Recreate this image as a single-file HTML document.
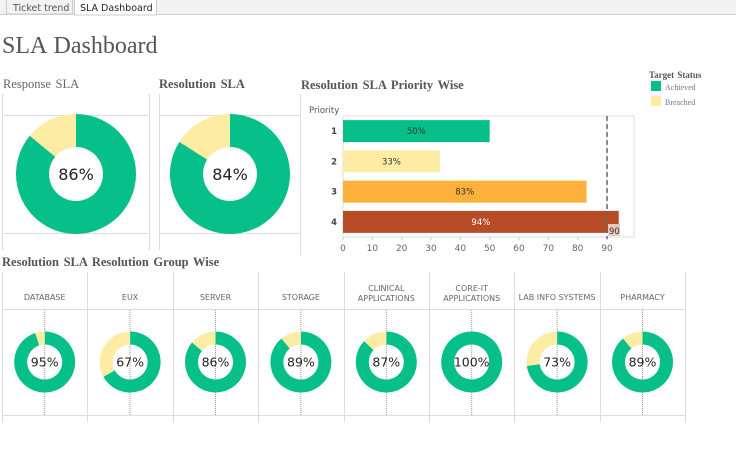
<!DOCTYPE html>
<html><head><meta charset="utf-8"><style>
body{margin:0;width:736px;height:454px;background:#fff;overflow:hidden;font-family:"DejaVu Sans","Liberation Sans",sans-serif;}
svg{position:absolute;left:0;top:0}
</style></head><body>
<svg id="s" width="736" height="454">
 <rect x="0" y="0" width="736" height="15" fill="#f2f2f2"/>
 <line x1="0" y1="14.5" x2="736" y2="14.5" stroke="#cfcfcf"/>
 <g><rect x="6.5" y="-1" width="66" height="15" fill="#f2f2f2" stroke="#ccc"/><text x="13" y="11" font-size="9.5" fill="#555">Ticket trend</text></g>
 <g><rect x="74.5" y="-1" width="82" height="16" fill="#fff" stroke="#ccc"/><text x="80" y="11" font-size="9.5" fill="#222">SLA Dashboard</text></g>
 <text x="2" y="53" font-family="Liberation Serif,serif" font-size="24" word-spacing="1.5" fill="#555">SLA Dashboard</text>
 <text x="3" y="88" font-family="Liberation Serif,serif" font-size="12.5" word-spacing="1.5" fill="#666">Response SLA</text>
 <text x="159" y="88" font-family="Liberation Serif,serif" font-size="12.5" word-spacing="1.5" font-weight="bold" fill="#555">Resolution SLA</text>
 <text x="301" y="89" font-family="Liberation Serif,serif" font-size="12.5" word-spacing="1.5" font-weight="bold" fill="#555">Resolution SLA Priority Wise</text>
 <text x="2" y="266" font-family="Liberation Serif,serif" font-size="12.5" word-spacing="1.5" font-weight="bold" fill="#555">Resolution SLA Resolution Group Wise</text>
 <g>
  <text x="649" y="78" font-family="Liberation Serif,serif" font-size="9" word-spacing="1" font-weight="bold" fill="#555">Target Status</text>
  <rect x="651" y="81" width="10" height="10" fill="#06bf89"/><text x="665" y="90" font-family="Liberation Serif,serif" font-size="8" fill="#777">Achieved</text>
  <rect x="651" y="96" width="10" height="10" fill="#fdeca3"/><text x="665" y="105" font-family="Liberation Serif,serif" font-size="8" fill="#777">Breached</text>
 </g>
 <g id="topg"></g><g id="bars"></g><g id="groups"></g>
</svg>
<script>
const GREEN="#06bf89",YEL="#fdeca3";
const topLabels=["Response SLA","Resolution SLA"];
const topValues=[86,84];
const priorities=["1","2","3","4"];
const priorityValues=[50,33,83,94];
const priorityColors=["#06bf89","#fdeca3","#fdb03a","#b64b26"];
const xTicks=[0,10,20,30,40,50,60,70,80,90];
const target=90;
const groups=[["DATABASE"],["EUX"],["SERVER"],["STORAGE"],["CLINICAL","APPLICATIONS"],["CORE-IT","APPLICATIONS"],["LAB INFO SYSTEMS"],["PHARMACY"]];
const groupValues=[95,67,86,89,87,100,73,89];
const NS="http://www.w3.org/2000/svg";
function el(p,t,a){const e=document.createElementNS(NS,t);for(const k in a)e.setAttribute(k,a[k]);p.appendChild(e);return e;}
function arc(cx,cy,R,r,a0,a1){
  if(a1-a0>=0.9999){a1=a0+0.99999;}
  const f=a=>[Math.sin(a*2*Math.PI),-Math.cos(a*2*Math.PI)];
  const[s0,c0]=f(a0),[s1,c1]=f(a1),L=(a1-a0)>0.5?1:0;
  return `M${cx+R*s0},${cy+R*c0}A${R},${R} 0 ${L} 1 ${cx+R*s1},${cy+R*c1}L${cx+r*s1},${cy+r*c1}A${r},${r} 0 ${L} 0 ${cx+r*s0},${cy+r*c0}Z`;
}
function donut(g,cx,cy,R,r,v,fs,name){
  const a=el(g,"path",{d:arc(cx,cy,R,r,0,v/100),fill:GREEN});
  
  
  if(v<100){const b=el(g,"path",{d:arc(cx,cy,R,r,v/100,1),fill:YEL});
  
  }
  const t=el(g,"text",{x:cx,y:cy+fs*0.36,"text-anchor":"middle","font-size":fs,fill:"#222"});t.textContent=v+"%";
  
  
}
const topG=document.getElementById("topg");
const panels=[[2,149],[159,300]];
topValues.forEach((v,i)=>{
  const [x0,x1]=panels[i];
  el(topG,"line",{x1:x0+.5,y1:94,x2:x0+.5,y2:250,stroke:"#ddd"});
  el(topG,"line",{x1:x1+.5,y1:94,x2:x1+.5,y2:250,stroke:"#ddd"});
  el(topG,"line",{x1:x0,y1:115.5,x2:x1,y2:115.5,stroke:"#ddd"});
  el(topG,"line",{x1:x0,y1:233.5,x2:x1,y2:233.5,stroke:"#ddd"});
  donut(topG,(x0+x1)/2+0.5,174,60,27,v,16,i?"resolution-sla-donut":"response-sla-donut");
});
const bg=document.getElementById("bars");
const X0=343,X1=634,Y0=116,Y1=237,sx=v=>X0+v*(607-X0)/90;
const bandH=(Y1-Y0)/priorities.length;
el(bg,"rect",{x:X0,y:Y0,width:X1-X0,height:Y1-Y0,fill:"none",stroke:"#ddd"});
el(bg,"line",{x1:300.5,y1:95,x2:300.5,y2:255,stroke:"#ddd"});
const pl=el(bg,"text",{x:309,y:113,"font-size":8.5,fill:"#555"});pl.textContent="Priority";
priorities.forEach((p,i)=>{
  const cy=Y0+bandH*(i+0.5),v=priorityValues[i];
  const r=el(bg,"rect",{x:X0,y:cy-11,width:sx(v)-X0,height:22,fill:priorityColors[i]});
  
  
  const t=el(bg,"text",{x:(X0+sx(v))/2,y:cy+3,"text-anchor":"middle","font-size":8.5,fill:i==3?"#fff":"#333"});t.textContent=v+"%";
  const l=el(bg,"text",{x:337,y:cy+3,"text-anchor":"end","font-size":8.5,"font-weight":"bold",fill:"#444"});l.textContent=p;
});
xTicks.forEach(v=>{const t=el(bg,"text",{x:sx(v),y:251,"text-anchor":"middle","font-size":9,fill:"#666"});t.textContent=v;
  el(bg,"line",{x1:sx(v),y1:Y1,x2:sx(v),y2:Y1+3,stroke:"#ccc"});});
const tl=el(bg,"line",{x1:sx(target),y1:Y0,x2:sx(target),y2:Y1+2,stroke:"#666","stroke-width":1.5,"stroke-dasharray":"5,3"});


el(bg,"rect",{x:sx(target)+1,y:Y1-13,width:12,height:12,fill:"#e8c8b8"});
const tt=el(bg,"text",{x:sx(target)+2,y:Y1-3,"font-size":8.5,fill:"#333"});tt.textContent=target;
const gg=document.getElementById("groups");
const gx0=2,gw=85.4;
el(gg,"line",{x1:gx0,y1:309.5,x2:gx0+gw*8,y2:309.5,stroke:"#ddd"});
el(gg,"line",{x1:gx0,y1:415.5,x2:gx0+gw*8,y2:415.5,stroke:"#ddd"});
for(let i=0;i<=groups.length;i++){const x=Math.round(gx0+gw*i)+.5;el(gg,"line",{x1:x,y1:272,x2:x,y2:422,stroke:"#ddd"});}
groups.forEach((g,i)=>{
  const cx=gx0+gw*(i+0.5);
  g.forEach((ln,j)=>{const t=el(gg,"text",{x:cx,y:(g.length==2?291:300)+j*10,"text-anchor":"middle","font-size":8,fill:"#666"});t.textContent=ln;});
  el(gg,"line",{x1:cx,y1:310,x2:cx,y2:415,stroke:"#999","stroke-dasharray":"1,1"});
  donut(gg,cx,362,30.5,17.5,groupValues[i],12.5,"group-donut-"+g.join("-").toLowerCase().replace(/ /g,"-"));
});
</script>
</body></html>
